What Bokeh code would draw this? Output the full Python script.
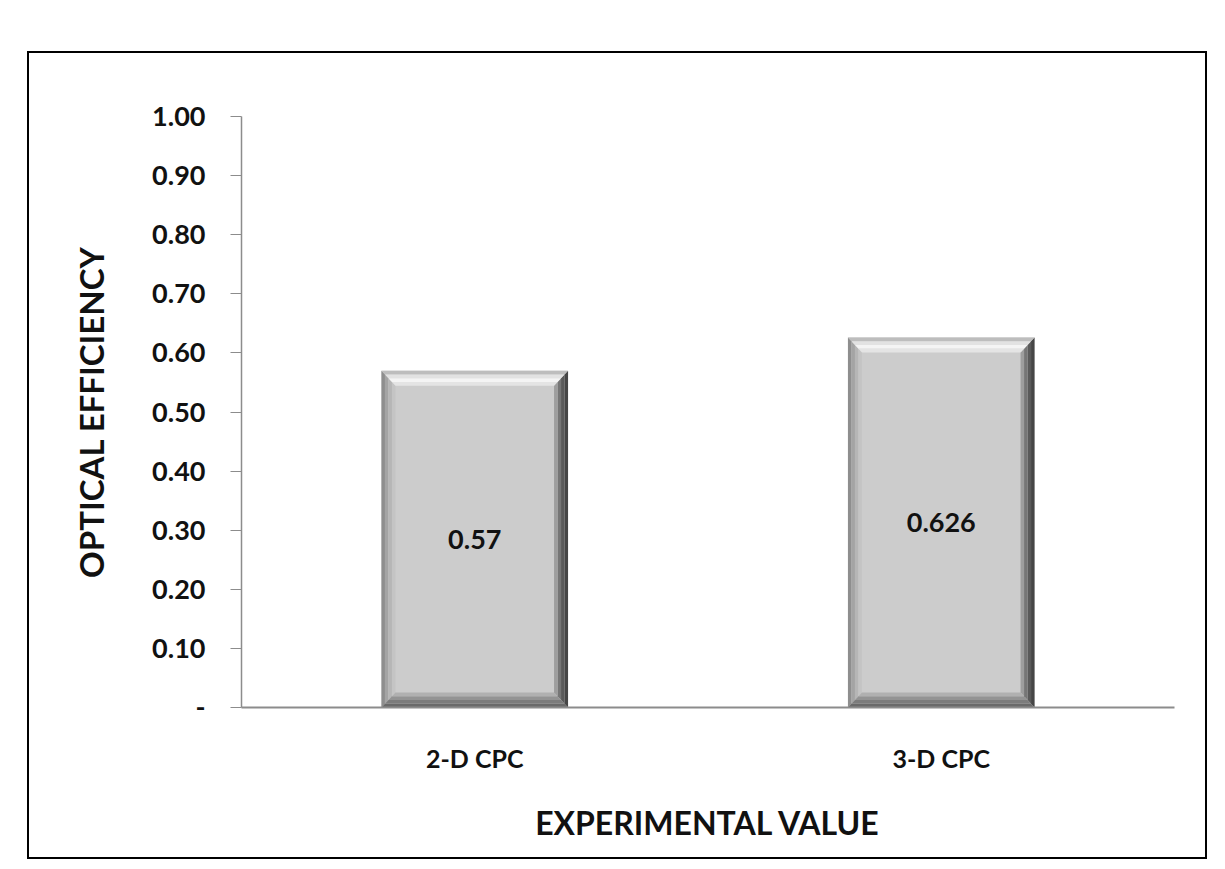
from bokeh.plotting import figure
from bokeh.models import FixedTicker, ColumnDataSource, Range1d, NumeralTickFormatter, InlineStyleSheet
from bokeh.core.properties import value
from bokeh.embed import file_html
from bokeh.resources import INLINE

# ---- data ----
categories = ["2-D CPC", "3-D CPC"]
efficiency = [0.57, 0.626]
bar_labels = ["0.57", "0.626"]
y_ticks = [0.0, 0.1, 0.2, 0.3, 0.4, 0.5, 0.6, 0.7, 0.8, 0.9, 1.0]

FONT = "Lato"

W, H = 1180, 808
p = figure(width=W, height=H, output_backend="svg", toolbar_location=None,
           x_range=Range1d(0, len(categories)), y_range=Range1d(0, 1.0),
           min_border_left=212, min_border_right=35, min_border_top=63, min_border_bottom=154)
p.margin = (51, 0, 0, 27)
p.stylesheets = [InlineStyleSheet(css=":host { border: 2px solid #000000; }")]
p.background_fill_color = "white"
p.border_fill_color = "white"
p.outline_line_color = None
p.xgrid.grid_line_color = None
p.ygrid.grid_line_color = None

# bars with bevel effect
xc = [i + 0.5 for i in range(len(categories))]
half = 0.2
bx = 14 / 466.5   # bevel width in x units
by = 15 / 591.0   # bevel height in y units

p.quad(left=[c - half for c in xc], right=[c + half for c in xc], bottom=0, top=efficiency,
       fill_color="#cccccc", line_color=None)

def band_patches(c, v, side, n):
    xs, ys = [], []
    L, R, B, T = c - half, c + half, 0.0, v
    for k in range(n):
        f0, f1 = k / n, (k + 1) / n
        dx0, dx1 = bx * f0, bx * f1
        dy0, dy1 = by * f0, by * f1
        if side == "top":
            xs.append([L + dx0, R - dx0, R - dx1, L + dx1])
            ys.append([T - dy0, T - dy0, T - dy1, T - dy1])
        elif side == "bottom":
            xs.append([L + dx0, R - dx0, R - dx1, L + dx1])
            ys.append([B + dy0, B + dy0, B + dy1, B + dy1])
        elif side == "left":
            xs.append([L + dx0, L + dx0, L + dx1, L + dx1])
            ys.append([B + dy0, T - dy0, T - dy1, B + dy1])
        else:
            xs.append([R - dx0, R - dx0, R - dx1, R - dx1])
            ys.append([B + dy0, T - dy0, T - dy1, B + dy1])
    return xs, ys

sides = {
    "left": ["#8e8e8e", "#a4a4a4", "#b6b6b6", "#c4c4c4"],
    "right": ["#464646", "#5a5a5a", "#767676", "#9e9e9e"],
    "bottom": ["#6a6a6a", "#7c7c7c", "#939393", "#b0b0b0"],
    "top": ["#bdbdbd", "#e2e2e2", "#f4f4f4", "#e4e4e4"],
}
for c, v in zip(xc, efficiency):
    for side, cols in sides.items():
        xs, ys = band_patches(c, v, side, 4)
        p.patches(xs=xs, ys=ys, fill_color=cols, line_color=None)

# data labels at bar centers
src = ColumnDataSource(dict(x=xc, y=[v / 2 for v in efficiency], t=bar_labels))
p.text(x="x", y="y", text="t", source=src, text_align="center", text_baseline="middle",
       text_font=value(FONT), text_font_style="bold", text_font_size="27px", text_color="#111111")

# axes
p.xaxis.ticker = FixedTicker(ticks=xc)
p.xaxis.major_label_overrides = {c: lab for c, lab in zip(xc, categories)}
p.xaxis.major_tick_line_color = None
p.xaxis.minor_tick_line_color = None
p.xaxis.axis_line_color = "#8c8c8c"
p.xaxis.axis_line_width = 2
p.xaxis.major_label_text_font = FONT
p.xaxis.major_label_text_font_style = "bold"
p.xaxis.major_label_text_font_size = "25px"
p.xaxis.major_label_text_color = "#111111"
p.xaxis.major_label_standoff = 29
p.xaxis.axis_label = "EXPERIMENTAL VALUE"
p.xaxis.axis_label_text_font = FONT
p.xaxis.axis_label_text_font_style = "bold"
p.xaxis.axis_label_text_font_size = "32px"
p.xaxis.axis_label_text_color = "#111111"
p.xaxis.axis_label_standoff = 27

p.yaxis.ticker = FixedTicker(ticks=y_ticks)
p.yaxis.formatter = NumeralTickFormatter(format="0.00")
p.yaxis.major_label_overrides = {0: "-"}
p.yaxis.major_tick_out = 11
p.yaxis.major_tick_in = 0
p.yaxis.minor_tick_line_color = None
p.yaxis.major_tick_line_color = "#8c8c8c"
p.yaxis.axis_line_color = "#8c8c8c"
p.yaxis.axis_line_width = 1.5
p.yaxis.major_label_text_font = FONT
p.yaxis.major_label_text_font_style = "bold"
p.yaxis.major_label_text_font_size = "27px"
p.yaxis.major_label_text_color = "#111111"
p.yaxis.major_label_standoff = 25
p.yaxis.axis_label = "OPTICAL EFFICIENCY"
p.yaxis.axis_label_text_font = FONT
p.yaxis.axis_label_text_font_style = "bold"
p.yaxis.axis_label_text_font_size = "33px"
p.yaxis.axis_label_text_color = "#111111"
p.yaxis.axis_label_standoff = 38

open("out.html", "w").write(file_html(p, INLINE))
